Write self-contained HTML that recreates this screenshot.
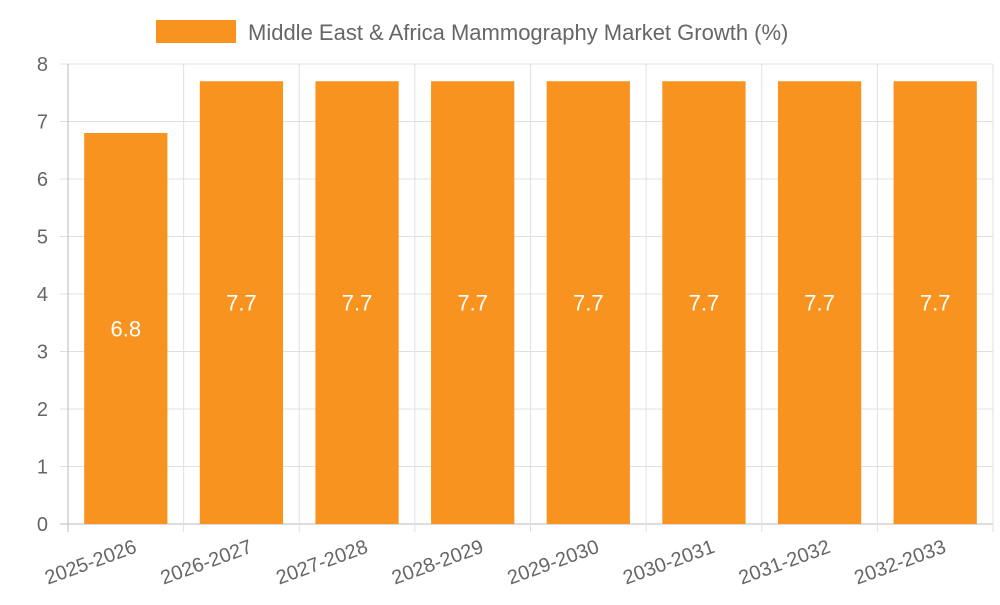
<!DOCTYPE html>
<html><head><meta charset="utf-8"><style>
body{margin:0;background:#fff;width:1000px;height:600px;overflow:hidden}
svg text{font-family:"Liberation Sans",sans-serif}
</style></head><body>
<svg id="chart" width="1000" height="600">
<g>
<rect x="156" y="20" width="80" height="23" fill="#f7931e"></rect>
<text x="248" y="40" font-size="22" fill="#666">Middle East &amp; Africa Mammography Market Growth (%)</text>
</g>
<g id="grid"></g>
<g id="bars"></g>
<g id="axes"></g>
</svg>
<script>
const categories=["2025-2026","2026-2027","2027-2028","2028-2029","2029-2030","2030-2031","2031-2032","2032-2033"];
const values=[6.8,7.7,7.7,7.7,7.7,7.7,7.7,7.7];
const yTicks=[0,1,2,3,4,5,6,7,8];
const L=68,R=993,T=64,B=524,yMax=8;
const NS="http://www.w3.org/2000/svg";
const cw=(R-L)/categories.length;
const y=v=>B-(v/yMax)*(B-T);
const x=i=>L+i*cw;
function mk(t,a,p){const e=document.createElementNS(NS,t);for(const k in a)e.setAttribute(k,a[k]);p.appendChild(e);return e;}
const grid=document.getElementById('grid'),bars=document.getElementById('bars'),axes=document.getElementById('axes');
yTicks.forEach(v=>{
 const l=mk('line',{x1:L-8,x2:R,y1:y(v),y2:y(v),stroke:v===0?'#bbb':'#e0e0e0'},grid);
 
 
 const t=mk('text',{x:L-20,y:y(v)+7,'text-anchor':'end','font-size':20,fill:'#666'},axes);
 t.textContent=v;
 
 
});
for(let i=0;i<=categories.length;i++){
 const l=mk('line',{x1:x(i),x2:x(i),y1:T,y2:B+8,stroke:i===0?'#bbb':'#e0e0e0'},grid);
 
 
}
categories.forEach((c,i)=>{
 const bw=cw*0.72,cx=x(i)+cw/2;
 const r=mk('rect',{x:cx-bw/2,y:y(values[i]),width:bw,height:B-y(values[i]),fill:'#f7931e'},bars);
 
 
 const vt=mk('text',{x:cx,y:(y(values[i])+B)/2+8,'text-anchor':'middle','font-size':22,fill:'#fff'},bars);
 vt.textContent=values[i];
 
 
 const lt=mk('text',{x:cx+12,y:B+28,'text-anchor':'end','font-size':20,fill:'#666',transform:`rotate(-20 ${cx+12} ${B+28})`},axes);
 lt.textContent=c;
 
 
});
</script>
</body></html>
